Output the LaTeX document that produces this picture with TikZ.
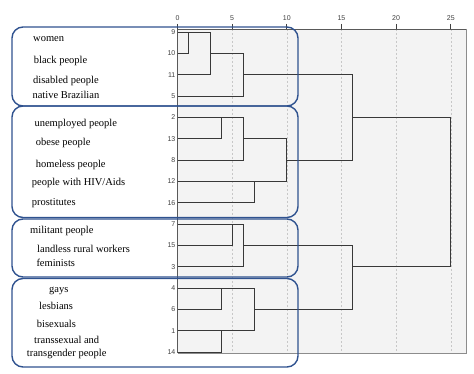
\documentclass[tikz,border=0pt]{standalone}
\usepackage{fontspec}
\setmainfont{Liberation Serif}
\newfontfamily\numfont{Liberation Sans}
\definecolor{boxblue}{HTML}{2F528F}
\definecolor{plotbg}{HTML}{F3F3F3}
\newcommand\mergecl[5]{%
  \coordinate (#1) at ({177.5+10.93*#4},{32+21.33*#5});
  \draw[dend] (#2) -- (#2 -| #1) -- (#3 -| #1) -- (#3);
}
\begin{document}
\begin{tikzpicture}[x=1pt,y=-1pt,
  lbl/.style={font=\fontsize{10.5}{12}\selectfont, anchor=base west, inner sep=0pt},
  leafnum/.style={font=\numfont\fontsize{7}{8}\selectfont, text=black!75, anchor=east, inner sep=0pt},
  axnum/.style={font=\numfont\fontsize{7}{8}\selectfont, text=black!75, anchor=center, inner sep=0pt},
  dend/.style={draw=black!78, line width=0.9pt},
  vgrid/.style={draw=black!22, line width=0.5pt, dash pattern=on 2pt off 2pt},
  groupbox/.style={draw=boxblue, line width=1.4pt, rounded corners=11pt}]
\useasboundingbox (0,0) rectangle (474,374);
% plot area
\fill[plotbg] (177.5,29) rectangle (466,353);
\foreach \d in {5,10,15,20,25}
  \draw[vgrid] ({177.5+10.93*\d},29) -- ({177.5+10.93*\d},353);
\draw[black!45, line width=0.8pt] (466,29) -- (466,353) -- (177.5,353);
\draw[black!65, line width=0.8pt] (177.5,353) -- (177.5,29) -- (466,29);
% axis
\foreach \d in {0,5,10,15,20,25} {
  \draw[black!75, line width=0.7pt] ({177.5+10.93*\d},24) -- ({177.5+10.93*\d},29);
  \node[axnum] (ax\d) at ({177.5+10.93*\d},18.5) {\d};
}
% leaves
\foreach \n [count=\i from 0] in {9,10,11,5,2,13,8,12,16,7,15,3,4,6,1,14} {
  \coordinate (r\i) at (177.5,{32+21.33*\i});
  \node[leafnum] (n\i) at (175.5,{32+21.33*\i}) {\n};
}
% merges: name, A, B, distance, output row
\mergecl{m1}{r0}{r1}{1}{0}
\mergecl{m2}{m1}{r2}{3}{1}
\mergecl{m3}{m2}{r3}{6}{2}
\mergecl{m4}{r4}{r5}{4}{4}
\mergecl{m5}{m4}{r6}{6}{5}
\mergecl{m6}{r7}{r8}{7}{7}
\mergecl{m7}{m5}{m6}{10}{6}
\mergecl{m8}{m3}{m7}{16}{4}
\mergecl{m9}{r9}{r10}{5}{9}
\mergecl{m10}{m9}{r11}{6}{10}
\mergecl{m11}{r12}{r13}{4}{12}
\mergecl{m12}{r14}{r15}{4}{14}
\mergecl{m13}{m11}{m12}{7}{13}
\mergecl{m14}{m10}{m13}{16}{11}
\mergecl{m15}{m8}{m14}{25}{7}
% group boxes
\draw[groupbox] (12,27) rectangle (298,106);
\draw[groupbox] (12,106) rectangle (298,217.5);
\draw[groupbox] (12,219) rectangle (298,277);
\draw[groupbox] (12,278.5) rectangle (298,367);
% labels
\node[lbl] (t1) at (33,41.5) {women};
\node[lbl] (t2) at (33.7,63.3) {black people};
\node[lbl] (t3) at (33,83.3) {disabled people};
\node[lbl] (t4) at (32.3,99) {native Brazilian};
\node[lbl] (t5) at (34.3,126.7) {unemployed people};
\node[lbl] (t6) at (35.7,145.7) {obese people};
\node[lbl] (t7) at (35.7,167.3) {homeless people};
\node[lbl] (t8) at (31.7,186) {people with HIV/Aids};
\node[lbl] (t9) at (31.7,206) {prostitutes};
\node[lbl] (t10) at (30,233.3) {militant people};
\node[lbl] (t11) at (37,252) {landless rural workers};
\node[lbl] (t12) at (36.3,266.7) {feminists};
\node[lbl] (t13) at (49,292.7) {gays};
\node[lbl] (t14) at (39,309.3) {lesbians};
\node[lbl] (t15) at (36.7,327) {bisexuals};
\node[lbl] (t16) at (34,343.7) {transsexual and};
\node[lbl] (t17) at (26.7,356.7) {transgender people};
\end{tikzpicture}
\end{document}
